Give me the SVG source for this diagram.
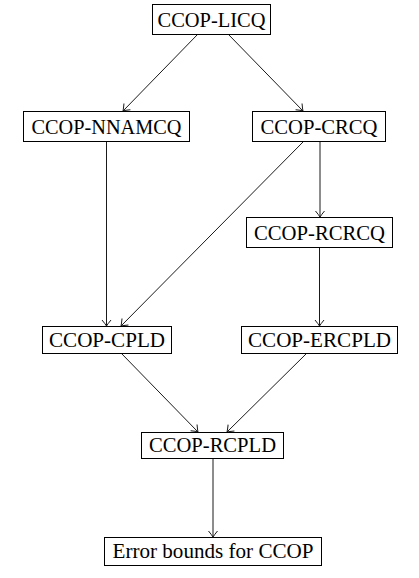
<svg xmlns="http://www.w3.org/2000/svg" width="419" height="578" viewBox="0 0 419 578">
<style>
.box{fill:#fff;stroke:#000;stroke-width:1}
.lbl{font-family:"Liberation Serif","DejaVu Serif",serif;font-size:20px;fill:#000;text-anchor:middle}
.edge{stroke:#1a1a1a;stroke-width:1;fill:none;marker-end:url(#arr)}
</style>
<defs>
<marker id="arr" markerUnits="userSpaceOnUse" markerWidth="14" markerHeight="14" viewBox="-8 -7 10 14" refX="0" refY="0" orient="auto">
<path d="M-6,-4.5 Q-2,-1.2 0,0 Q-2,1.2 -6,4.5" fill="none" stroke="#1a1a1a" stroke-width="1"/>
</marker>
</defs>
<rect width="419" height="578" fill="#fff"/>
<g id="connectors">
<line class="edge" x1="198" y1="34" x2="123" y2="111"/>
<line class="edge" x1="228" y1="34" x2="303" y2="111"/>
<line class="edge" x1="106.5" y1="142" x2="106.5" y2="326"/>
<line class="edge" x1="303" y1="142" x2="121" y2="326"/>
<line class="edge" x1="320" y1="142" x2="320" y2="217"/>
<line class="edge" x1="319.5" y1="248" x2="319.5" y2="326"/>
<line class="edge" x1="121" y1="353" x2="198" y2="432"/>
<line class="edge" x1="307" y1="353" x2="227" y2="432"/>
<line class="edge" x1="213" y1="458" x2="213" y2="537"/>
</g>
<g id="n-licq"><rect class="box" x="152.5" y="4.5" width="118" height="30"/><text class="lbl" x="211.5" y="26.5" textLength="108" lengthAdjust="spacingAndGlyphs">CCOP-LICQ</text></g>
<g id="n-nnamcq"><rect class="box" x="23.5" y="111.5" width="166" height="30"/><text class="lbl" x="106.5" y="133.5" textLength="150" lengthAdjust="spacingAndGlyphs">CCOP-NNAMCQ</text></g>
<g id="n-crcq"><rect class="box" x="252.5" y="111.5" width="133" height="30"/><text class="lbl" x="319" y="133.5" textLength="117" lengthAdjust="spacingAndGlyphs">CCOP-CRCQ</text></g>
<g id="n-rcrcq"><rect class="box" x="246.5" y="217.5" width="146" height="30"/><text class="lbl" x="319.5" y="239.5" textLength="131" lengthAdjust="spacingAndGlyphs">CCOP-RCRCQ</text></g>
<g id="n-cpld"><rect class="box" x="42.5" y="326.5" width="129" height="27"/><text class="lbl" x="107" y="346.5" textLength="116" lengthAdjust="spacingAndGlyphs">CCOP-CPLD</text></g>
<g id="n-ercpld"><rect class="box" x="241.5" y="326.5" width="156" height="27"/><text class="lbl" x="319.5" y="346.5" textLength="143" lengthAdjust="spacingAndGlyphs">CCOP-ERCPLD</text></g>
<g id="n-rcpld"><rect class="box" x="141.5" y="432.5" width="142" height="26"/><text class="lbl" x="212.5" y="452" textLength="127" lengthAdjust="spacingAndGlyphs">CCOP-RCPLD</text></g>
<g id="n-error"><rect class="box" x="104.5" y="537.5" width="217" height="28"/><text class="lbl" x="213" y="558" textLength="201" lengthAdjust="spacingAndGlyphs">Error bounds for CCOP</text></g>
</svg>
